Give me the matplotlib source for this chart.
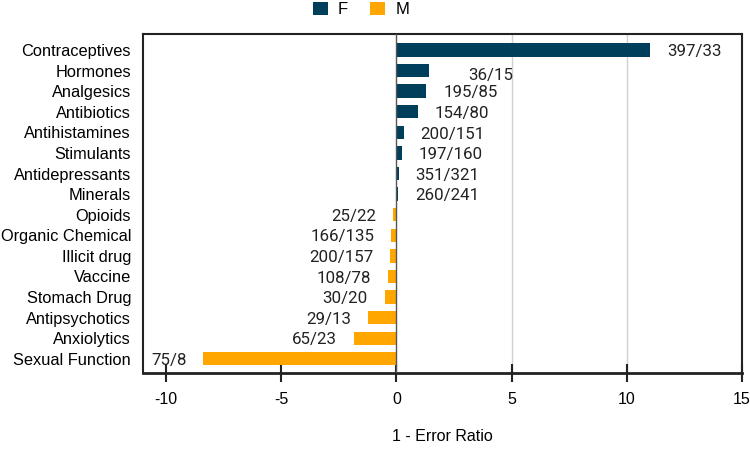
import matplotlib
matplotlib.use("Agg")
import matplotlib.pyplot as plt
from matplotlib.patches import Patch

categories = ["Contraceptives", "Hormones", "Analgesics", "Antibiotics", "Antihistamines",
              "Stimulants", "Antidepressants", "Minerals", "Opioids", "Organic Chemical",
              "Illicit drug", "Vaccine", "Stomach Drug", "Antipsychotics", "Anxiolytics",
              "Sexual Function"]
values = [11.0, 1.40, 1.29, 0.925, 0.32, 0.23, 0.093, 0.079,
          -0.136, -0.23, -0.27, -0.38, -0.50, -1.23, -1.83, -8.375]
groups = ["F"] * 8 + ["M"] * 8
value_labels = ["397/33", "36/15", "195/85", "154/80", "200/151", "197/160", "351/321", "260/241",
                "25/22", "166/135", "200/157", "108/78", "30/20", "29/13", "65/23", "75/8"]
xticks = [-10, -5, 0, 5, 10, 15]
colors = {"F": "#003f5c", "M": "#ffa600"}

fig = plt.figure(figsize=(7.5, 4.49), dpi=100)
ax = fig.add_axes([143/750, 1-373/449, (742-143)/750, (373-34)/449])

ypos = list(range(len(categories)))
ax.set_xlim(-11, 15)
ax.set_ylim(15.69, -0.777)

for t in xticks:
    if t > 0:
        ax.axvline(t, color="#d0d0d0", lw=1, zorder=0)
ax.axvline(0, color="#555555", lw=1, zorder=3)

ax.barh(ypos, values, height=0.65, color=[colors[g] for g in groups], zorder=2)

# label nudges in points (dx, dy)
nudges = {"Hormones": (16.5, -2.0)}
for y, v, lab, cat in zip(ypos, values, value_labels, categories):
    dx, dy = nudges.get(cat, (0, 0))
    if v >= 0:
        ax.annotate(lab, (v, y), xytext=(12.2 + dx, -1.2 + dy), textcoords="offset points",
                    ha="left", va="center", fontsize=12.2, family="Roboto", color="#222222")
    else:
        ax.annotate(lab, (v, y), xytext=(-12.2 + dx, -1.2 + dy), textcoords="offset points",
                    ha="right", va="center", fontsize=12.2, family="Roboto", color="#222222")

ax.set_yticks(ypos)
ax.set_yticklabels(categories, family="Liberation Sans", fontsize=11.8)
ax.tick_params(axis="y", length=0, pad=8.6)
ax.set_xticks(xticks)
ax.set_xticklabels([str(t) for t in xticks], family="Liberation Sans", fontsize=11.5)
ax.tick_params(axis="x", direction="inout", length=13, width=1.5, pad=7, color="#222222")
ax.set_xlabel("1 - Error Ratio", family="Liberation Sans", fontsize=11.5, labelpad=16)

for s in ax.spines.values():
    s.set_linewidth(1.5)
    s.set_color("#222222")
ax.spines["bottom"].set_linewidth(2)

handles = [Patch(facecolor=colors["F"], label="F"), Patch(facecolor=colors["M"], label="M")]
fig.legend(handles=handles, loc="upper center", bbox_to_anchor=(361/750, 1.03), ncol=2,
           frameon=False, handlelength=0.9, handleheight=0.9, columnspacing=1.35,
           handletextpad=0.6, prop={"family": "Liberation Sans", "size": 12})

fig.savefig("out.png", dpi=100)
